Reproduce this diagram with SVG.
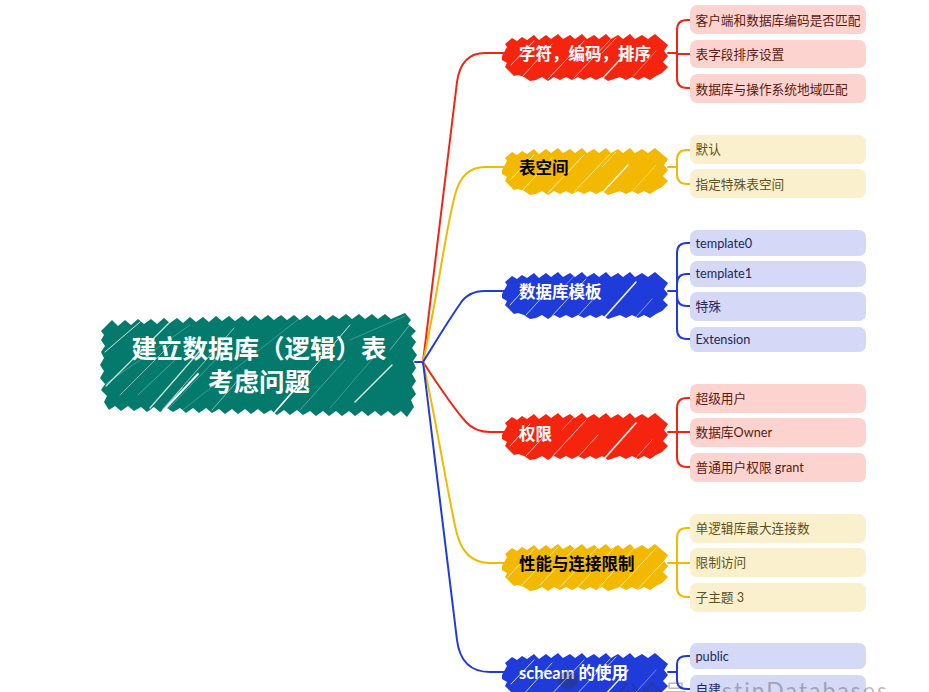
<svg xmlns="http://www.w3.org/2000/svg" xmlns:xlink="http://www.w3.org/1999/xlink" width="929" height="692" viewBox="0 0 929 692">
<style>
text{font-family:"Lato","Noto Sans CJK SC",sans-serif}
.conn{fill:none;stroke-width:2;stroke-linecap:round;stroke-linejoin:round}
.r{stroke:#F5240F}.y{stroke:#F2B900}.b{stroke:#1F3BD9}
.leaf{stroke:none}
.lr{fill:#FCD3CF}.ly{fill:#FBF0CE}.lb{fill:#D5D8F6}
.tr{fill:#5A1A14}.ty{fill:#5F5020}.tb{fill:#22265E}
.lt{font-size:12.7px}
.bt{font-size:16.5px;font-weight:700;fill:#fff}
.bk{fill:#000}
.rt{font-size:25.5px;font-weight:700;fill:#fff;text-anchor:middle}
.hatch{stroke:#fff;fill:none;stroke-linecap:round}
</style>
<defs>
<path id="scr" d="M0,3 L5,-6 L3,-9 L10,-15 L15,-12 L20,-16 L25,-13 L32,-18 L37,-13 L44,-18 L49,-14 L56,-19 L61,-14 L68,-18 L73,-14 L80,-19 L85,-14 L92,-18 L97,-14 L104,-19 L109,-14 L116,-18 L121,-14 L128,-19 L133,-14 L140,-18 L146,-14 L153,-19 L160,-13 L166,-8 L162,-2 L166,3 L161,9 L166,14 L160,20 L154,23 L148,27 L142,24 L136,27 L130,24 L124,27 L118,24 L112,26 L106,28 L100,24 L94,27 L88,24 L82,27 L76,24 L70,27 L64,24 L58,27 L52,24 L46,28 L40,24 L34,27 L28,28 L22,24 L16,22 L12,23 L7,18 L3,14 L5,10 L0,7 Z"/>
<g id="h1" class="hatch">
<path d="M9,12 L32,-12" stroke-width="1" opacity=".8"/><path d="M20,24 L50,-9" stroke-width="1" opacity=".7"/><path d="M46,26 L82,-12" stroke-width="1" opacity=".7"/><path d="M72,25 L108,-13" stroke-width="1" opacity=".6"/><path d="M100,26 L126,-2" stroke-width="1.4" opacity=".9"/><path d="M100,0 L114,-15" stroke-width="1" opacity=".6"/><path d="M128,27 L154,-2" stroke-width=".8" opacity=".5"/>
</g>
<g id="h2" class="hatch">
<path d="M8,14 L28,-8" stroke-width="1" opacity=".8"/><path d="M24,24 L44,2" stroke-width="1" opacity=".7"/><path d="M50,25 L84,-12" stroke-width="1" opacity=".7"/><path d="M76,25 L96,3" stroke-width="1" opacity=".6"/><path d="M60,-2 L72,-15" stroke-width=".8" opacity=".5"/><path d="M102,27 L134,-9" stroke-width="1.6" opacity=".95"/><path d="M134,26 L150,8" stroke-width=".8" opacity=".6"/>
</g>
<g id="h3" class="hatch" stroke-width=".8" opacity=".75">
<path d="M6,14 L32,-14"/><path d="M18,24 L56,-16"/><path d="M38,22 L74,-16"/><path d="M58,24 L96,-16"/><path d="M76,24 L112,-15"/><path d="M96,26 L132,-15"/><path d="M116,26 L154,-15"/><path d="M136,26 L162,-2"/>
</g>
</defs>

<g id="connectors">
<path class="conn b" d="M415,362 H423"/>
<path class="conn r" d="M423,362 L457,82 Q461,53 485,53 H505"/>
<path class="conn y" d="M423,362 C437,300 445,232 455,195 Q462,167 485,167 H505"/>
<path class="conn b" d="M423,362 C438,338 450,318 460,304 Q468,291 485,291 H505"/>
<path class="conn r" d="M423,362 C440,388 455,410 466,422 Q475,432 490,432 H505"/>
<path class="conn y" d="M423,362 C437,425 447,490 456,530 Q463,563 490,563 H505"/>
<path class="conn b" d="M423,362 L457,640 Q461,672 490,672 H505"/>
<path class="conn r" d="M668,53 H677 M691,20 H687 Q677,20 677,30 V78 Q677,88 687,88 H691 M677,54 H691"/>
<path class="conn y" d="M668,167 H677 M691,150 H687 Q677,150 677,160 V174 Q677,184 687,184 H691"/>
<path class="conn b" d="M668,291 H677 M691,243 H687 Q677,243 677,253 V329 Q677,339 687,339 H691 M691,274 H687 Q677,274 677,284 M677,296 Q677,306 687,306 H691"/>
<path class="conn r" d="M668,432 H691 M691,398 H687 Q677,398 677,408 V457 Q677,467 687,467 H691"/>
<path class="conn y" d="M668,563 H691 M691,528 H687 Q677,528 677,538 V587 Q677,597 687,597 H691"/>
<path class="conn b" d="M668,672 H677 M691,656 H687 Q677,656 677,664 V680 Q677,689 687,689 H691"/>
</g>

<g id="root">
<path fill="#037A6B" d="M101,331 L112,320 L118,326 L125,320 L131,325 L138,319 L144,324 L151,319 L157,324 L164,318 L170,323 L177,318 L183,323 L190,317 L196,322 L203,317 L209,322 L216,316 L222,321 L229,316 L235,321 L242,316 L248,321 L255,315 L261,320 L268,315 L274,320 L281,315 L287,320 L294,315 L300,320 L307,315 L313,320 L320,315 L326,320 L333,315 L339,319 L346,314 L352,319 L359,314 L365,319 L372,314 L378,319 L385,314 L391,319 L398,316 L405,313 L411,320 L408,324 L416,331 L411,336 L416,342 L412,348 L417,355 L413,361 L416,368 L412,374 L416,381 L412,387 L416,394 L411,400 L414,407 L407,417 L401,411 L394,416 L388,411 L381,416 L375,411 L368,416 L362,411 L355,416 L349,411 L342,416 L336,411 L329,416 L323,411 L316,416 L310,411 L303,415 L297,410 L290,415 L284,410 L277,415 L271,410 L264,414 L258,409 L251,414 L245,409 L238,414 L232,409 L225,414 L219,409 L212,413 L206,408 L199,413 L193,408 L186,413 L180,408 L173,412 L167,408 L160,412 L154,407 L147,412 L141,407 L134,411 L128,406 L121,411 L115,406 L109,410 L104,402 L107,396 L101,390 L105,384 L100,378 L104,371 L100,365 L104,358 L101,352 L105,346 L101,340 L104,335 Z"/>
<g class="hatch">
<path d="M105,352 L140,322" stroke-width="1" opacity=".8"/><path d="M104,385 L190,325" stroke-width="1" opacity=".25"/>
<path d="M106,386 L170,322" stroke-width="1.2" opacity=".8"/><path d="M120,395 L170,345" stroke-width="1" opacity=".5"/><path d="M138,395 L177,358" stroke-width=".8" opacity=".4"/>
<path d="M150,408 L205,345" stroke-width="1.2" opacity=".8"/><path d="M163,410 L182,388" stroke-width="1" opacity=".6"/>
<path d="M162,410 L234,328" stroke-width="1" opacity=".55"/><path d="M165,412 L225,350" stroke-width=".8" opacity=".35"/>
<path d="M163,411 L198,374" stroke-width="2" opacity=".95"/><path d="M180,412 L300,318" stroke-width=".8" opacity=".3"/>
<path d="M212,410 L240,378" stroke-width="1" opacity=".5"/><path d="M275,412 L310,372" stroke-width="1.8" opacity=".95"/><path d="M310,372 L350,325" stroke-width="1" opacity=".8"/>
<path d="M350,340 L405,316" stroke-width=".8" opacity=".3"/><path d="M300,410 L345,360" stroke-width=".8" opacity=".4"/>
<path d="M355,402 L392,365" stroke-width="1.4" opacity=".85"/><path d="M390,350 L412,322" stroke-width=".8" opacity=".5"/><path d="M330,408 L380,350" stroke-width=".8" opacity=".3"/>
</g>
<text class="rt" x="259" y="358">建立数据库（逻辑）表</text>
<text class="rt" x="259" y="391">考虑问题</text>
</g>

<g id="b1"><use href="#scr" x="502" y="53" fill="#F5240F"/><use href="#h1" x="502" y="53"/><text class="bt" x="519" y="60">字符，编码，排序</text></g>
<g id="b2"><use href="#scr" x="502" y="167" fill="#F2B900"/><use href="#h1" x="502" y="167"/><text class="bt bk" x="519" y="174">表空间</text></g>
<g id="b3"><use href="#scr" x="502" y="291" fill="#1F3BD9"/><use href="#h2" x="502" y="291"/><text class="bt" x="519" y="298">数据库模板</text></g>
<g id="b4"><use href="#scr" x="502" y="432" fill="#F5240F"/><use href="#h2" x="502" y="432"/><text class="bt" x="519" y="440">权限</text></g>
<g id="b5"><use href="#scr" x="502" y="563" fill="#F2B900"/><use href="#h3" x="502" y="563"/><text class="bt bk" x="519" y="570">性能与连接限制</text></g>
<g id="b6"><use href="#scr" x="502" y="672" fill="#1F3BD9"/><use href="#h1" x="502" y="672"/><text class="bt" x="519" y="679">scheam 的使用</text></g>

<g id="l1a"><rect class="leaf lr" x="690" y="5" width="176" height="29" rx="7"/><text class="lt tr" x="695.5" y="25">客户端和数据库编码是否匹配</text></g>
<g id="l1b"><rect class="leaf lr" x="690" y="40" width="176" height="28" rx="7"/><text class="lt tr" x="695.5" y="59">表字段排序设置</text></g>
<g id="l1c"><rect class="leaf lr" x="690" y="74" width="176" height="29" rx="7"/><text class="lt tr" x="695.5" y="94">数据库与操作系统地域匹配</text></g>
<g id="l2a"><rect class="leaf ly" x="690" y="135" width="176" height="29" rx="7"/><text class="lt ty" x="695.5" y="154">默认</text></g>
<g id="l2b"><rect class="leaf ly" x="690" y="169" width="176" height="29" rx="7"/><text class="lt ty" x="695.5" y="189">指定特殊表空间</text></g>
<g id="l3a"><rect class="leaf lb" x="690" y="230" width="176" height="26" rx="7"/><text class="lt tb" x="695.5" y="248">template0</text></g>
<g id="l3b"><rect class="leaf lb" x="690" y="261" width="176" height="26" rx="7"/><text class="lt tb" x="695.5" y="278">template1</text></g>
<g id="l3c"><rect class="leaf lb" x="690" y="292" width="176" height="29" rx="7"/><text class="lt tb" x="695.5" y="311">特殊</text></g>
<g id="l3d"><rect class="leaf lb" x="690" y="327" width="176" height="25" rx="7"/><text class="lt tb" x="695.5" y="344">Extension</text></g>
<g id="l4a"><rect class="leaf lr" x="690" y="384" width="176" height="29" rx="7"/><text class="lt tr" x="695.5" y="403">超级用户</text></g>
<g id="l4b"><rect class="leaf lr" x="690" y="418" width="176" height="29" rx="7"/><text class="lt tr" x="695.5" y="437">数据库Owner</text></g>
<g id="l4c"><rect class="leaf lr" x="690" y="453" width="176" height="29" rx="7"/><text class="lt tr" x="695.5" y="472">普通用户权限 grant</text></g>
<g id="l5a"><rect class="leaf ly" x="690" y="514" width="176" height="29" rx="7"/><text class="lt ty" x="695.5" y="533">单逻辑库最大连接数</text></g>
<g id="l5b"><rect class="leaf ly" x="690" y="548" width="176" height="29" rx="7"/><text class="lt ty" x="695.5" y="567">限制访问</text></g>
<g id="l5c"><rect class="leaf ly" x="690" y="583" width="176" height="29" rx="7"/><text class="lt ty" x="695.5" y="602">子主题 3</text></g>
<g id="l6a"><rect class="leaf lb" x="690" y="643" width="176" height="26" rx="7"/><text class="lt tb" x="695.5" y="661">public</text></g>
<g id="l6b"><rect class="leaf lb" x="690" y="675" width="176" height="29" rx="7"/><text class="lt tb" x="695.5" y="694">自建</text></g>

<g id="watermark" opacity=".32" fill="#333">
<ellipse cx="568" cy="680" rx="10" ry="9"/>
<text x="618" y="701" font-size="23">公众号</text>
<text x="722" y="699" font-size="23" letter-spacing="2">stinDatabases</text>
</g>
</svg>
